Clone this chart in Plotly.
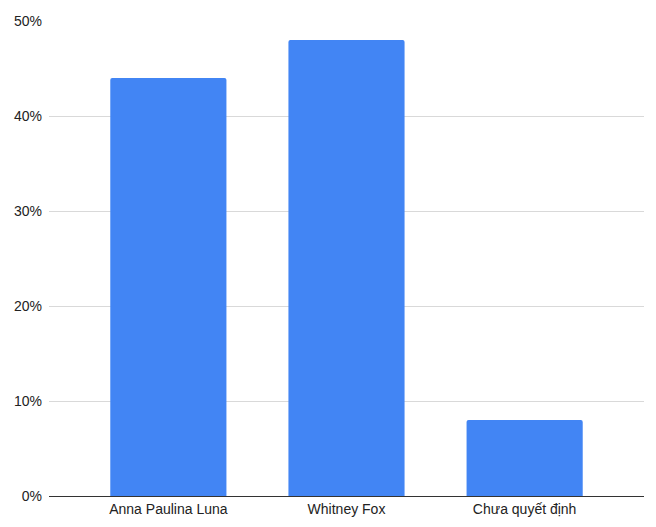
import plotly.graph_objects as go

# candidates and share of support
candidates = ["Anna Paulina Luna", "Whitney Fox", "Chưa quyết định"]
support = [0.44, 0.48, 0.08]
y_ticks = [0, 0.1, 0.2, 0.3, 0.4, 0.5]

fig = go.Figure()
fig.add_trace(go.Bar(
    x=candidates,
    y=support,
    marker=dict(color="#4285F4", line=dict(width=0)),
    hoverinfo="x+y",
))

# page body adds ~8px offset, so margins are trimmed on top/left
fig.update_layout(
    width=656,
    height=527,
    margin=dict(l=41, r=20, t=13, b=39),
    paper_bgcolor="white",
    plot_bgcolor="white",
    bargap=0.348,
    barcornerradius=2,
    showlegend=False,
    font=dict(family="Liberation Sans, Arial, sans-serif", size=14, color="#222222"),
)
fig.update_xaxes(
    range=[-0.67, 2.67],
    automargin=False,
    showgrid=False,
    showline=True,
    linecolor="#333333",
    linewidth=1,
    ticks="",
    tickfont=dict(size=14, color="#222222"),
)
fig.update_yaxes(
    range=[0, 0.5],
    automargin=False,
    tickvals=y_ticks,
    tickformat=".0%",
    showgrid=True,
    gridcolor="#d9d9d9",
    gridwidth=1,
    zeroline=False,
    ticks="",
    ticklabelstandoff=6,
    tickfont=dict(size=14, color="#222222"),
)

fig.write_html("out.html")
